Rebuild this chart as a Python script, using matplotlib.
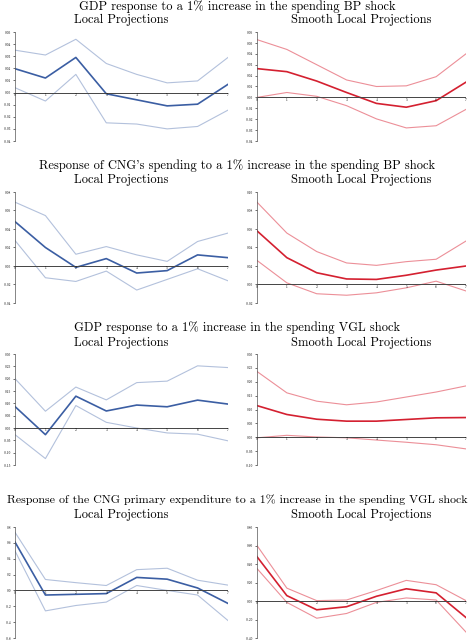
import matplotlib
matplotlib.use("Agg")
import matplotlib.pyplot as plt
import numpy as np

plt.rcParams['font.family'] = ['cmr10', 'DejaVu Serif']
plt.rcParams['axes.formatter.use_mathtext'] = True

h = [0, 1, 2, 3, 4, 5, 6, 7]

titles = ["GDP response to a 1% increase in the spending BP shock",
          "Response of CNG's spending to a 1% increase in the spending BP shock",
          "GDP response to a 1% increase in the spending VGL shock",
          "Response of the CNG primary expenditure to a 1% increase in the spending VGL shock"]
title_sizes = [9, 9, 9, 8.6]

# Panel 1
lp1_mid = [0.0197, 0.012, 0.029, -0.001, -0.006, -0.011, -0.0096, 0.0068]
lp1_up = [0.035, 0.031, 0.044, 0.024, 0.015, 0.008, 0.0096, 0.029]
lp1_lo = [0.004, -0.007, 0.015, -0.025, -0.026, -0.030, -0.028, -0.0145]
slp1_mid = [0.0264, 0.0236, 0.015, 0.0045, -0.0055, -0.009, -0.003, 0.014]
slp1_up = [0.053, 0.044, 0.030, 0.016, 0.010, 0.0106, 0.019, 0.040]
slp1_lo = [0.0, 0.0045, 0.001, -0.0076, -0.0197, -0.028, -0.026, -0.011]
# Panel 2
lp2_mid = [0.048, 0.020, -0.0015, 0.008, -0.0076, -0.005, 0.012, 0.009]
lp2_up = [0.069, 0.0545, 0.0127, 0.021, 0.012, 0.005, 0.0265, 0.0356]
lp2_lo = [0.0276, -0.0127, -0.0167, -0.0055, -0.026, -0.0145, -0.003, -0.016]
slp2_mid = [0.058, 0.029, 0.0127, 0.006, 0.0055, 0.010, 0.0156, 0.020]
slp2_up = [0.089, 0.0556, 0.0356, 0.0233, 0.0207, 0.0247, 0.0273, 0.047]
slp2_lo = [0.026, 0.0018, -0.010, -0.0116, -0.009, -0.0036, 0.0036, -0.007]
# Panel 3
lp3_mid = [0.087, -0.027, 0.129, 0.069, 0.093, 0.086, 0.113, 0.097]
lp3_up = [0.20, 0.068, 0.166, 0.114, 0.184, 0.19, 0.252, 0.245]
lp3_lo = [-0.027, -0.124, 0.091, 0.023, 0.0, -0.02, -0.025, -0.052]
slp3_mid = [0.114, 0.082, 0.065, 0.058, 0.058, 0.064, 0.070, 0.071]
slp3_up = [0.237, 0.160, 0.130, 0.117, 0.127, 0.145, 0.163, 0.185]
slp3_lo = [-0.002, 0.007, 0.001, -0.002, -0.01, -0.018, -0.027, -0.042]
# Panel 4
lp4_mid = [0.61, -0.058, -0.049, -0.04, 0.164, 0.142, 0.031, -0.164]
lp4_up = [0.733, 0.138, 0.098, 0.062, 0.262, 0.28, 0.129, 0.067]
lp4_lo = [0.498, -0.258, -0.19, -0.147, 0.062, 0.0, -0.058, -0.38]
slp4_mid = [0.479, 0.058, -0.095, -0.062, 0.051, 0.132, 0.088, -0.179]
slp4_up = [0.60, 0.139, 0.004, 0.011, 0.113, 0.223, 0.176, 0.004]
slp4_lo = [0.351, -0.015, -0.186, -0.135, -0.015, 0.033, 0.011, -0.336]

lp = [(lp1_mid, lp1_up, lp1_lo), (lp2_mid, lp2_up, lp2_lo), (lp3_mid, lp3_up, lp3_lo), (lp4_mid, lp4_up, lp4_lo)]
slp = [(slp1_mid, slp1_up, slp1_lo), (slp2_mid, slp2_up, slp2_lo), (slp3_mid, slp3_up, slp3_lo), (slp4_mid, slp4_up, slp4_lo)]

lp_ticks = [np.arange(-0.04, 0.0501, 0.01), np.arange(-0.04, 0.0801, 0.02),
            np.arange(-0.15, 0.3001, 0.05), np.arange(-0.6, 0.801, 0.2)]
slp_ticks = [np.arange(-0.04, 0.0601, 0.01), np.arange(-0.02, 0.1001, 0.02),
             np.arange(-0.10, 0.3001, 0.05), np.arange(-0.4, 0.801, 0.2)]
lp_fmt = ["%.2f", "%.2f", "%.2f", "%.1f"]
slp_fmt = ["%.2f", "%.2f", "%.2f", "%.2f"]

fig = plt.figure(figsize=(4.74, 6.41), dpi=100)
W, H = 474, 641
rows = [(32, 141, 7, 20), (192, 303, 166, 180), (354, 465, 328, 343), (527, 638, 500, 515)]
cols = [(15, 228), (257, 466)]

def draw(ax, data, ticks, fmt, cmid, cband):
    mid, up, lo = data
    ax.plot(h, up, color=cband, lw=0.8, ls='-')
    ax.plot(h, lo, color=cband, lw=0.8, ls='-')
    ax.plot(h, mid, color=cmid, lw=1.2)
    ax.axhline(0, color='#444444', lw=0.7)
    ax.set_xlim(0, 7)
    ax.set_ylim(ticks[0], ticks[-1])
    ax.set_yticks(ticks)
    ax.set_yticklabels([fmt % t for t in ticks], fontsize=2.5)
    ax.set_xticks([])
    for x in h:
        ax.text(x, 0, str(x), fontsize=2.5, ha='center', va='top',
                transform=ax.transData)
    for s in ['top', 'right', 'bottom']:
        ax.spines[s].set_visible(False)
    ax.spines['left'].set_linewidth(0.5)
    ax.spines['left'].set_color('#555555')
    ax.tick_params(axis='y', length=1.5, width=0.4, pad=1)

for i, (t, b, ty, sy) in enumerate(rows):
    fig.text(0.5, 1 - ty / H, titles[i], ha='center', va='center', fontsize=title_sizes[i])
    for j, (l, r) in enumerate(cols):
        ax = fig.add_axes([l / W, 1 - b / H, (r - l) / W, (b - t) / H])
        if j == 0:
            draw(ax, lp[i], lp_ticks[i], lp_fmt[i], '#3b5ea3', '#b3c1dc')
            fig.text((l + r) / 2 / W, 1 - sy / H, "Local Projections", ha='center', va='center', fontsize=9)
        else:
            draw(ax, slp[i], slp_ticks[i], slp_fmt[i], '#d42030', '#ec8f98')
            fig.text((l + r) / 2 / W, 1 - sy / H, "Smooth Local Projections", ha='center', va='center', fontsize=9)

fig.savefig("out.png", dpi=100)
